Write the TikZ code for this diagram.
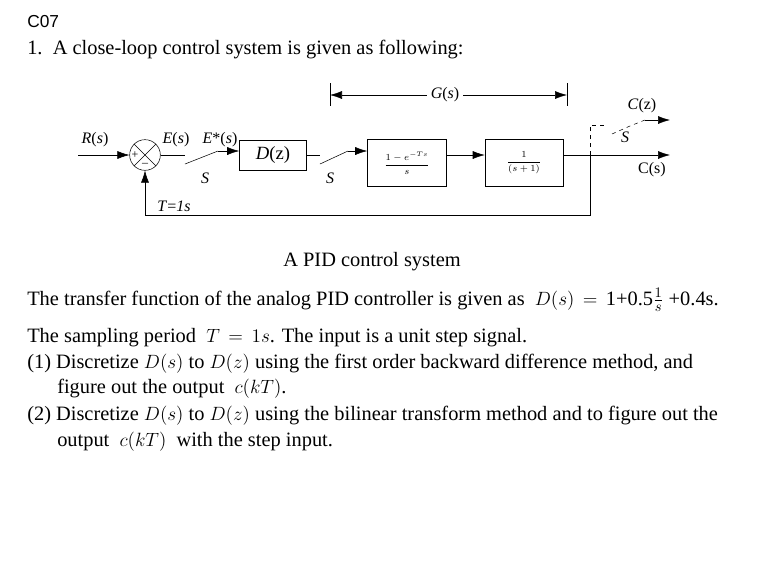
\documentclass[tikz,border=0pt]{standalone}
\usepackage{amsmath}
\usepackage{fontspec}
\setmainfont{Liberation Serif}
\newfontfamily\headfont{Liberation Sans}
\usetikzlibrary{arrows.meta,positioning}
\newcommand{\iv}[1]{\textit{#1}}
\tikzset{
  blk/.style={draw,minimum height=47*0.75pt,inner sep=0pt},
  sig/.style={-{Latex[length=9pt,width=6pt]}},
  lbl/.style={font=\fontsize{12}{14}\selectfont,inner sep=1pt},
  txt/.style={anchor=west,inner sep=0pt,font=\fontsize{15.3}{18}\selectfont}
}
\begin{document}
\begin{tikzpicture}[x=0.75pt,y=-0.75pt]
\useasboundingbox[fill=white] (0,0) rectangle (783,569);
% header
\node[anchor=west,inner sep=0pt,font=\headfont\fontsize{13}{15}\selectfont] (head) at (27,22) {C07};
\node[txt] (q) at (27,50) {1.\ \ A close-loop control system is given as following:};
% blocks
\node[draw,circle,minimum size=23pt,inner sep=0pt] (sum) at (145,155) {};
\draw (sum.north west) -- (sum.south east) (sum.north east) -- (sum.south west);
\node[font=\small,inner sep=0pt] at (135,155) {+};
\node[font=\small,inner sep=0pt] at (145,165) {--};
\node[draw,minimum width=67*0.75pt,minimum height=30*0.75pt,font=\fontsize{14}{16}\selectfont] (dz) at (273,155) {\iv{D}(z)};
\node[blk,minimum width=79*0.75pt] (zoh) at (407,163) {};
\node[font=\fontsize{7}{8}\selectfont] at (407,163) {$\dfrac{1-e^{-Ts}}{s}$};
\node[blk,minimum width=78*0.75pt] (plant) at (524,163) {};
\node[font=\fontsize{7}{8}\selectfont] at (524,163) {$\dfrac{1}{(s+1)}$};
% coordinates
\coordinate (rin) at (78,155);
\coordinate (e1) at (185,155);
\coordinate (s1a) at (185,164);
\coordinate (s1b) at (218,151);
\coordinate (d1) at (320,155);
\coordinate (s2a) at (320,164);
\coordinate (s2b) at (348,151);
\coordinate (tap) at (590,155);
\coordinate (cout) at (670,155);
\coordinate (fb) at (590,215);
\coordinate (fb2) at (145,215);
\coordinate (dz1) at (590,125);
\coordinate (dz2) at (605,125);
\coordinate (sw3a) at (612,134);
\coordinate (sw3b) at (630,126);
\coordinate (czo) at (670,120);
% signals
\draw[sig] (rin) -- (sum.west);
\draw (sum.east) -- (e1);
\draw (s1a) -- (s1b);
\draw[sig] (s1b) -- (s1b -| dz.west);
\draw (dz.east) -- (d1);
\draw (s2a) -- (s2b);
\draw[sig] (s2b) -- (s2b -| zoh.west);
\draw[sig] (zoh.east |- 155,155) -- (plant.west |- 155,155);
\draw[sig] (plant.east |- 155,155) -- (cout);
\draw[sig] (tap) -- (fb) -- (fb2) -- (sum.south);
\draw[dashed] (tap) -- (dz1) -- (dz2);
\draw[dashed] (sw3a) -- (sw3b) -- (645,120);
\draw[sig] (645,120) -- (czo);
% labels
\node[lbl] at (95,140) {\iv{R}(\iv{s})};
\node[lbl] at (176,140) {\iv{E}(\iv{s})};
\node[lbl] at (220,140) {\iv{E}*(\iv{s})};
\node[lbl] at (205,178) {\iv{S}};
\node[lbl] at (330,178) {\iv{S}};
\node[lbl] at (174,206) {\iv{T}=\iv{1s}};
\node[lbl] at (652,170) {C(s)};
\node[lbl] at (642,106) {\iv{C}(z)};
\node[lbl] at (625,137) {\iv{S}};
% G(s) span
\coordinate (ga) at (330,95);
\coordinate (gb) at (567,95);
\draw (ga |- 0,83) -- (ga |- 0,106) (gb |- 0,83) -- (gb |- 0,106);
\node[lbl,fill=white,inner sep=3pt] (gs) at (445,95) {\iv{G}(\iv{s})};
\draw[sig] (gs) -- (ga);
\draw[sig] (gs) -- (gb);
% text
\node[font=\fontsize{15.3}{18}\selectfont,inner sep=0pt] (cap) at (372,262) {A PID control system};
\node[txt] (l1) at (27,300) {The transfer function of the analog PID controller is given as \ $D(s)\,=\,$ 1+0.5$\frac{1}{s}$ +0.4s.};
\node[txt] (l2) at (27,338) {The sampling period \ $T\,=\,1s$. The input is a unit step signal.};
\node[txt] (l3) at (27,364) {(1) Discretize $D(s)$ to $D(z)$ using the first order backward difference method, and};
\node[txt] (l4) at (57,389) {figure out the output \ $c(kT)$.};
\node[txt] (l5) at (27,416) {(2) Discretize $D(s)$ to $D(z)$ using the bilinear transform method and to figure out the};
\node[txt] (l6) at (57,442) {output \ $c(kT)$ \ with the step input.};
\end{tikzpicture}
\end{document}
